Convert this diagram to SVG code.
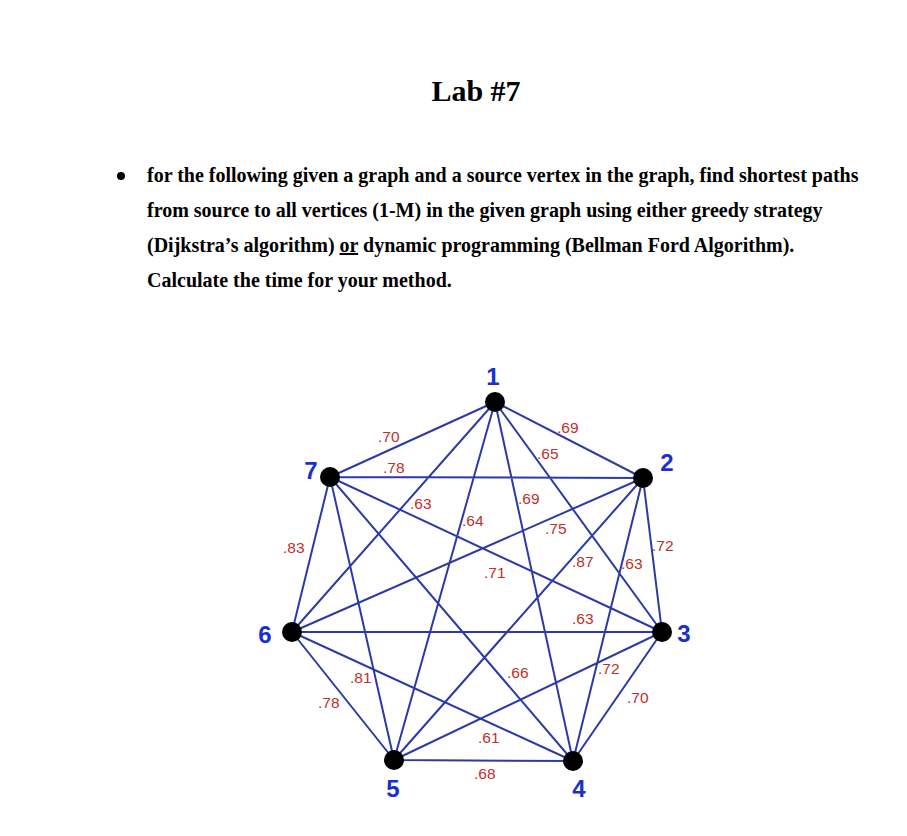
<svg xmlns="http://www.w3.org/2000/svg" width="907" height="836" viewBox="0 0 907 836">
<style>
.t{font-family:"Liberation Serif",serif;font-weight:bold;fill:#000}
.e{stroke:#2b3aa8;stroke-width:2;fill:none}
.w{font-family:"Liberation Sans",Arial,sans-serif;font-size:15.5px;fill:#c0302a}
.n{font-family:"Liberation Sans",Arial,sans-serif;font-size:24px;font-weight:bold;fill:#1a2fd0}
</style>
<rect width="907" height="836" fill="#fff"/>
<text class="t" x="476" y="101" font-size="30" text-anchor="middle">Lab #7</text>
<circle cx="121" cy="176" r="4" fill="#000"/>
<text class="t" font-size="20"><tspan x="147" y="182">for the following given a graph and a source vertex in the graph, find shortest paths</tspan><tspan x="147" y="217">from source to all vertices (1-M) in the given graph using either greedy strategy</tspan><tspan x="147" y="252">(Dijkstra’s algorithm) <tspan text-decoration="underline">or</tspan> dynamic programming (Bellman Ford Algorithm).</tspan><tspan x="147" y="287">Calculate the time for your method.</tspan></text>
<g id="connectors">
<path class="e" d="M495 402L643 478M495 402L662 632M495 402L573 761M495 402L394 760M495 402L292 632M495 402L330 477
M643 478L662 632M643 478L573 761M643 478L394 760M643 478L292 632M643 478L330 477
M662 632L573 761M662 632L394 760M662 632L292 632M662 632L330 477
M573 761L394 760M573 761L292 632M573 761L330 477
M394 760L292 632M394 760L330 477
M292 632L330 477"/>
</g>
<g id="weights" class="w">
<text x="378" y="442">.70</text><text x="383" y="473">.78</text><text x="410" y="509">.63</text>
<text x="462" y="526">.64</text><text x="518" y="504">.69</text><text x="557" y="433">.69</text>
<text x="537" y="459">.65</text><text x="545" y="534">.75</text><text x="283" y="553">.83</text>
<text x="484" y="578">.71</text><text x="572" y="567">.87</text><text x="621" y="569">.63</text>
<text x="652" y="551">.72</text><text x="572" y="624">.63</text><text x="598" y="674">.72</text>
<text x="627" y="703">.70</text><text x="507" y="678">.66</text><text x="350" y="683">.81</text>
<text x="318" y="708">.78</text><text x="478" y="743">.61</text><text x="474" y="779">.68</text>
</g>
<g id="n1"><circle cx="495" cy="402" r="10"/><text class="n" x="493" y="385" text-anchor="middle">1</text></g>
<g id="n2"><circle cx="643" cy="478" r="10"/><text class="n" x="667" y="471" text-anchor="middle">2</text></g>
<g id="n3"><circle cx="662" cy="632" r="10"/><text class="n" x="684" y="642" text-anchor="middle">3</text></g>
<g id="n4"><circle cx="573" cy="761" r="10"/><text class="n" x="579" y="797" text-anchor="middle">4</text></g>
<g id="n5"><circle cx="394" cy="760" r="10"/><text class="n" x="393" y="797" text-anchor="middle">5</text></g>
<g id="n6"><circle cx="292" cy="632" r="10"/><text class="n" x="265" y="643" text-anchor="middle">6</text></g>
<g id="n7"><circle cx="330" cy="477" r="10"/><text class="n" x="311" y="479" text-anchor="middle">7</text></g>
</svg>
